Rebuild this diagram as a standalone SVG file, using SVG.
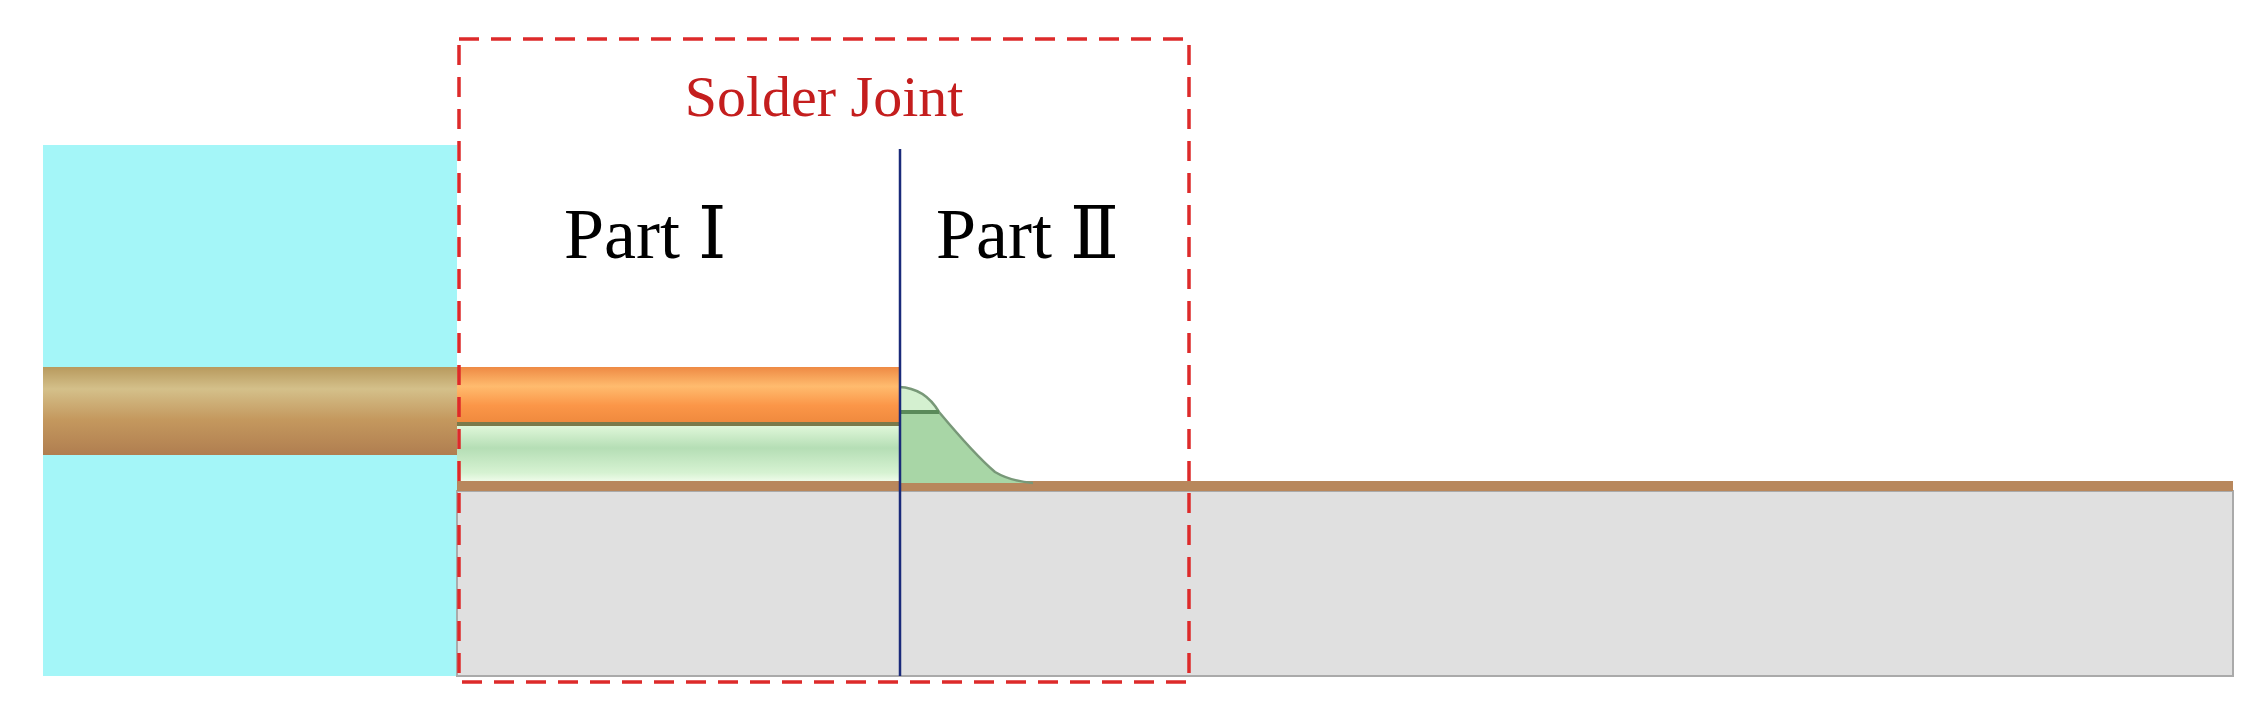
<svg xmlns="http://www.w3.org/2000/svg" width="2266" height="721" viewBox="0 0 2266 721">
<defs>
<linearGradient id="cu" x1="0" y1="0" x2="0" y2="1"><stop offset="0" stop-color="#b89a5e"/><stop offset="0.25" stop-color="#d4c08a"/><stop offset="0.6" stop-color="#c4985e"/><stop offset="1" stop-color="#b07e50"/></linearGradient>
<linearGradient id="or" x1="0" y1="0" x2="0" y2="1"><stop offset="0" stop-color="#ee8a44"/><stop offset="0.35" stop-color="#ffbb6e"/><stop offset="0.7" stop-color="#fb9648"/><stop offset="1" stop-color="#f08a3e"/></linearGradient>
<linearGradient id="gr" x1="0" y1="0" x2="0" y2="1"><stop offset="0" stop-color="#dff7d9"/><stop offset="0.4" stop-color="#b5deb5"/><stop offset="0.85" stop-color="#d6f2d2"/><stop offset="1" stop-color="#eefbe9"/></linearGradient>
<style>
.lbl{fill:#000;font-size:72px}
.rn{font-family:"DejaVu Serif",serif}
</style>
</defs>
<rect width="2266" height="721" fill="#fff"/>
<g id="substrate"><rect x="43" y="145" width="414" height="531" fill="#a4f6f8"/><rect x="43" y="367" width="414" height="88" fill="url(#cu)"/></g>
<g id="board"><rect x="457" y="491" width="1776" height="185" fill="#e0e0e0" stroke="#aaa" stroke-width="2"/><rect x="457" y="481" width="1776" height="10" fill="#b8875c"/></g>
<g id="lead"><rect x="457" y="367" width="442" height="55" fill="url(#or)"/><rect x="457" y="422" width="442" height="4" fill="#7a7a4a"/></g>
<g id="solder"><rect x="457" y="426" width="442" height="55" fill="url(#gr)"/>
<path d="M899 387 Q925 388 939 412 Q975 455 995 472 Q1010 481 1033 483 L899 483 Z" fill="#a8d6a6"/>
<path d="M899 412 L939 412 Q925 388 899 387 Z" fill="#d4f0d0"/>
<path d="M899 387 Q925 388 939 412 Q975 455 995 472 Q1010 481 1033 483" fill="none" stroke="#789878" stroke-width="2.5"/>
<line x1="899" y1="412" x2="939" y2="412" stroke="#5a8a5a" stroke-width="4"/></g>
<g id="divider"><line x1="900" y1="149" x2="900" y2="676" stroke="#1a2a7a" stroke-width="2.5"/></g>
<g id="joint"><rect x="459" y="39" width="730" height="643" fill="none" stroke="#dd2a2a" stroke-width="3.5" stroke-dasharray="20 12"/>
<text x="824" y="116" text-anchor="middle" font-family="Liberation Serif,serif" font-size="58" fill="#c41e1e">Solder Joint</text></g>
<text class="lbl" x="564" y="258" font-family="Liberation Serif,serif">Part <tspan class="rn">Ⅰ</tspan></text>
<text class="lbl" x="936" y="258" font-family="Liberation Serif,serif">Part <tspan class="rn">Ⅱ</tspan></text>
</svg>
